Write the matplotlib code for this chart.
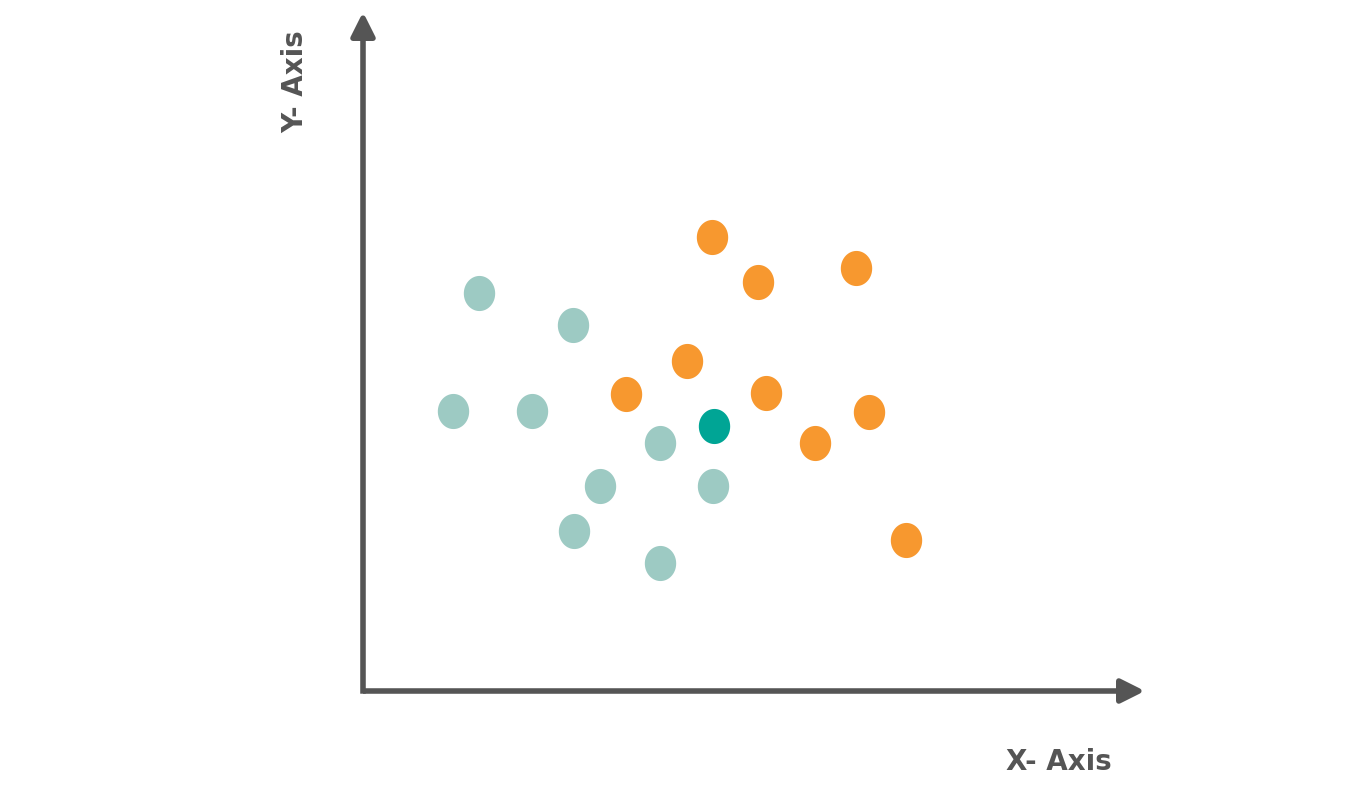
import numpy as np
import matplotlib.pyplot as plt

# class A (light teal), class B (orange), new point (dark teal)
teal_x = [14.8, 26.9, 11.5, 21.6, 38.0, 30.3, 44.8, 27.0, 38.0]
teal_y = [58.6, 53.9, 41.2, 41.2, 36.5, 30.2, 30.2, 23.6, 18.9]
orange_x = [44.6, 50.5, 63.0, 41.4, 33.6, 51.5, 64.7, 57.8, 69.4]
orange_y = [66.9, 60.2, 62.3, 48.6, 43.7, 43.9, 41.1, 36.5, 22.2]
new_x = [44.9]
new_y = [39.0]

axis_color = '#555555'

fig = plt.figure(figsize=(13.66, 7.93), dpi=100)
ax = fig.add_axes([363 / 1366, 102 / 793, 782 / 1366, 679 / 793])
ax.set_xlim(0, 100)
ax.set_ylim(0, 100)
for s in ax.spines.values():
    s.set_visible(False)
ax.set_xticks([])
ax.set_yticks([])

# slightly tall blob marker
t = np.linspace(0, 2 * np.pi, 60)
blob = np.column_stack([np.cos(t), 1.12 * np.sin(t)])

ax.scatter(teal_x, teal_y, s=640, marker=blob, color='#9DCAC3', linewidths=0)
ax.scatter(orange_x, orange_y, s=640, marker=blob, color='#F7982F', linewidths=0)
ax.scatter(new_x, new_y, s=640, marker=blob, color='#00A595', linewidths=0)

arrow = dict(arrowstyle='-|>', lw=4, color=axis_color, mutation_scale=36,
             shrinkA=0, shrinkB=0, capstyle='butt')
ax.annotate('', xy=(0, 1), xytext=(0, -0.004), xycoords='axes fraction',
            arrowprops=arrow, annotation_clip=False)
ax.annotate('', xy=(1, 0), xytext=(0, 0), xycoords='axes fraction',
            arrowprops=arrow, annotation_clip=False)

fig.text(1059 / 1366, 1 - 762 / 793, 'X- Axis', fontsize=20, fontweight='heavy',
         color=axis_color, ha='center', va='center')
fig.text(295 / 1366, 1 - 82 / 793, 'Y- Axis', fontsize=20, fontweight='heavy',
         color=axis_color, ha='center', va='center', rotation=90)

fig.savefig('out.png', dpi=100, facecolor='white')
